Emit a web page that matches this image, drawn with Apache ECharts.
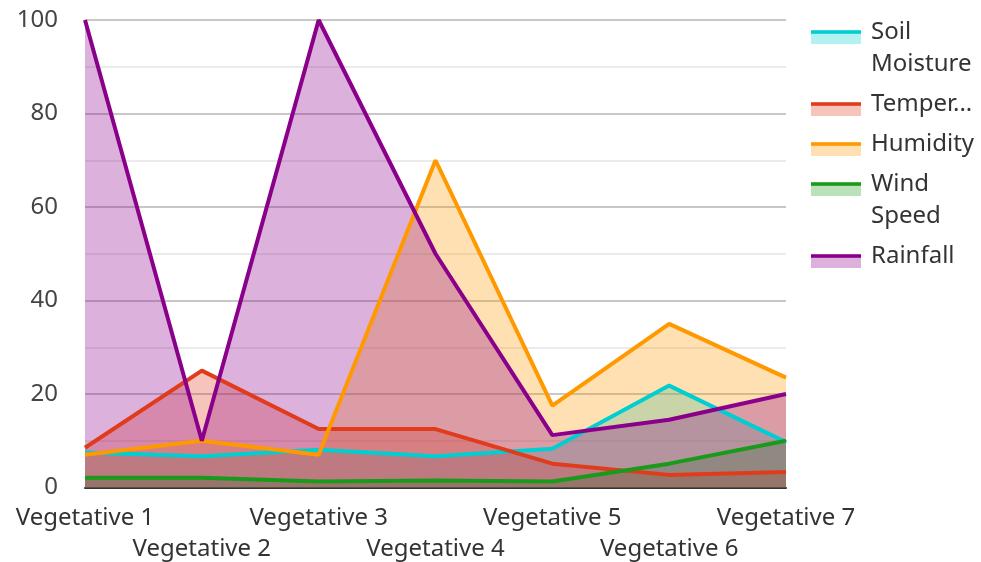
<!DOCTYPE html>
<html>
<head>
<meta charset="utf-8">
<script src="https://cdn.jsdelivr.net/npm/echarts@6/dist/echarts.min.js"></script>
<style>
  html, body { margin: 0; padding: 0; background: #ffffff; }
  #chart { width: 981px; height: 562px; }
</style>
</head>
<body>
<div id="chart"></div>
<script>
// Growth stages along the x axis
const stages = ['Vegetative 1', 'Vegetative 2', 'Vegetative 3', 'Vegetative 4',
                'Vegetative 5', 'Vegetative 6', 'Vegetative 7'];

// Measurements per stage
const soilMoisture = [7.5, 6.7, 8.1, 6.7, 8.3, 21.8, 9.7];
const temperature  = [8.5, 25, 12.5, 12.5, 5.1, 2.7, 3.3];
const humidity     = [7, 10, 7, 70, 17.5, 35, 23.5];
const windSpeed    = [2.1, 2.1, 1.3, 1.5, 1.3, 5.1, 10];
const rainfall     = [100, 10, 100, 50, 11.2, 14.5, 20];

// Y axis ticks
const yTicks = [0, 20, 40, 60, 80, 100];

const seriesNames  = ['Soil Moisture', 'Temperature', 'Humidity', 'Wind Speed', 'Rainfall'];
const seriesValues = [soilMoisture, temperature, humidity, windSpeed, rainfall];
const seriesColors = ['#00CED1', '#E03C1C', '#FF9900', '#1A9A1A', '#8B008B'];

// Legend labels: wrap on spaces, shorten long single words
const legendLabels = {
  'Soil Moisture': 'Soil\nMoisture',
  'Temperature': 'Temper...',
  'Humidity': 'Humidity',
  'Wind Speed': 'Wind\nSpeed',
  'Rainfall': 'Rainfall'
};

const FONT = '"Noto Sans", sans-serif';
const LEGEND_LINE = 32;   // legend text line height
const LEGEND_GAP = 8;     // vertical gap between legend entries
const LEGEND_TOP = 16.5;  // top of the first legend entry's text
const ICON_W = 50, ICON_H = 14, ICON_OFFSET = 13.5;

// Legend swatch: a solid stroke on top of a translucent area block,
// placed beside the first text line of the entry.
function swatch(color, boxH) {
  const svg =
    '<svg xmlns="http://www.w3.org/2000/svg" width="' + (ICON_W + 5) + '" height="' + boxH + '">' +
    '<rect x="0" y="' + ICON_OFFSET + '" width="' + ICON_W + '" height="' + ICON_H +
    '" fill="' + color + '" fill-opacity="0.3"/>' +
    '<rect x="0" y="' + (ICON_OFFSET + 0.3) + '" width="' + ICON_W + '" height="3.5" fill="' + color + '"/>' +
    '</svg>';
  return 'image://data:image/svg+xml;charset=utf-8,' + encodeURIComponent(svg);
}

// One legend block per series so each entry can sit at its own height
let cursor = LEGEND_TOP;
const legends = seriesNames.map((name, i) => {
  const lines = legendLabels[name].split('\n').length;
  const boxH = lines * LEGEND_LINE;
  const lg = {
    orient: 'vertical',
    left: 806,
    top: cursor - 5,
    itemWidth: ICON_W + 5,
    itemHeight: boxH,
    formatter: n => legendLabels[n],
    textStyle: { fontFamily: FONT, fontSize: 24, color: '#333', lineHeight: LEGEND_LINE },
    data: [{ name: name, icon: swatch(seriesColors[i], boxH) }]
  };
  cursor += boxH + LEGEND_GAP;
  return lg;
});

const chart = echarts.init(document.getElementById('chart'), null, { renderer: 'canvas' });

chart.setOption({
  animation: false,
  backgroundColor: '#ffffff',
  grid: {
    left: 85, right: 195, top: 20, bottom: 74.5,
    containLabel: false,
    outerBoundsMode: 'none'
  },
  legend: legends,
  xAxis: {
    type: 'category',
    boundaryGap: false,
    data: stages,
    axisLine: { show: true, lineStyle: { color: '#333', width: 2 } },
    axisTick: { show: false },
    splitLine: { show: false },
    axisLabel: {
      interval: 0,
      margin: 15,
      fontFamily: FONT,
      fontSize: 24,
      color: '#333',
      lineHeight: 31,
      formatter: (v, i) => (i % 2 === 1 ? '\n' + v : v)
    }
  },
  yAxis: {
    type: 'value',
    min: yTicks[0],
    max: yTicks[yTicks.length - 1],
    interval: yTicks[1] - yTicks[0],
    axisLine: { show: false },
    axisTick: { show: false },
    axisLabel: { fontFamily: FONT, fontSize: 24, color: '#444', margin: 27 },
    splitLine: { show: true, lineStyle: { color: '#c8c8c8', width: 2 } },
    minorTick: { show: false, splitNumber: 2 },
    minorSplitLine: { show: true, lineStyle: { color: '#ebebeb', width: 2 } }
  },
  series: seriesNames.map((name, i) => ({
    name: name,
    type: 'line',
    data: seriesValues[i],
    showSymbol: false,
    symbol: 'none',
    lineStyle: { color: seriesColors[i], width: 4 },
    itemStyle: { color: seriesColors[i] },
    areaStyle: { color: seriesColors[i], opacity: 0.3 }
  }))
});
</script>
</body>
</html>
